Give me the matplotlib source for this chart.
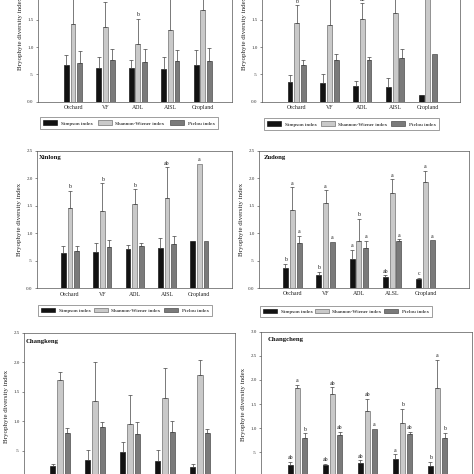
import matplotlib
matplotlib.use("Agg")
import matplotlib.pyplot as plt
from matplotlib.patches import Patch
import numpy as np

plt.rcParams['font.family'] = ['Liberation Serif', 'DejaVu Serif']

categories = ["Orchard", "VF", "ADL", "AISL", "Cropland"]
categories_zudong = ["Orchard", "VF", "ADL", "ALSL", "Cropland"]
series_names = ["Simpson index", "Shannon-Wiener index", "Pielou index"]

# Panel 1 (top-left, title cropped)
p1_simpson = [0.67, 0.61, 0.61, 0.59, 0.67]
p1_simpson_err = [0.18, 0.21, 0.15, 0.22, 0.275]
p1_shannon = [1.42, 1.36, 1.05, 1.31, 1.68]
p1_shannon_err = [0.58, 0.47, 0.46, 0.64, 0.42]
p1_pielou = [0.70, 0.76, 0.73, 0.74, 0.74]
p1_pielou_err = [0.23, 0.20, 0.23, 0.205, 0.24]
p1_letters_shannon = ["", "", "b", "", ""]

# Panel 2 (top-right, title cropped)
p2_simpson = [0.355, 0.335, 0.29, 0.26, 0.13]
p2_simpson_err = [0.135, 0.165, 0.09, 0.17, 0.0]
p2_shannon = [1.445, 1.40, 1.52, 1.63, 2.27]
p2_shannon_err = [0.315, 0.51, 0.28, 0.57, 0.0]
p2_pielou = [0.68, 0.76, 0.77, 0.80, 0.866]
p2_pielou_err = [0.09, 0.12, 0.05, 0.16, 0.0]
p2_letters_shannon = ["b", "", "ab", "", ""]

# Xinlong
xl_simpson = [0.636, 0.655, 0.71, 0.74, 0.867]
xl_simpson_err = [0.134, 0.165, 0.08, 0.17, 0.0]
xl_shannon = [1.46, 1.406, 1.53, 1.65, 2.27]
xl_shannon_err = [0.316, 0.504, 0.27, 0.55, 0.0]
xl_pielou = [0.685, 0.758, 0.77, 0.80, 0.867]
xl_pielou_err = [0.091, 0.122, 0.06, 0.16, 0.0]
xl_letters_shannon = ["b", "b", "b", "ab", "a"]

# Zudong
zd_simpson = [0.364, 0.24, 0.533, 0.206, 0.164]
zd_simpson_err = [0.08, 0.05, 0.167, 0.024, 0.026]
zd_letters_simpson = ["b", "b", "a", "ab", "c"]
zd_shannon = [1.42, 1.56, 0.85, 1.74, 1.94]
zd_shannon_err = [0.42, 0.22, 0.41, 0.24, 0.20]
zd_letters_shannon = ["a", "a", "b", "a", "a"]
zd_pielou = [0.83, 0.84, 0.727, 0.86, 0.867]
zd_pielou_err = [0.12, 0.0, 0.133, 0.03, 0.0]
zd_letters_pielou = ["a", "a", "a", "a", "a"]

# Changkeng
ck_simpson = [0.237, 0.34, 0.47, 0.32, 0.226]
ck_simpson_err = [0.043, 0.17, 0.17, 0.19, 0.054]
ck_shannon = [1.695, 1.34, 0.955, 1.39, 1.785]
ck_shannon_err = [0.145, 0.66, 0.495, 0.51, 0.245]
ck_pielou = [0.80, 0.90, 0.78, 0.81, 0.80]
ck_pielou_err = [0.076, 0.09, 0.20, 0.19, 0.06]

# Changcheng
cc_simpson = [0.235, 0.235, 0.276, 0.365, 0.215]
cc_simpson_err = [0.065, 0.03, 0.064, 0.095, 0.085]
cc_letters_simpson = ["ab", "ab", "ab", "a", "b"]
cc_shannon = [1.83, 1.70, 1.357, 1.12, 1.84]
cc_shannon_err = [0.07, 0.145, 0.253, 0.28, 0.58]
cc_letters_shannon = ["a", "ab", "ab", "b", "a"]
cc_pielou = [0.806, 0.866, 0.995, 0.887, 0.79]
cc_pielou_err = [0.088, 0.064, 0.0, 0.043, 0.12]
cc_letters_pielou = ["b", "ab", "a", "ab", "b"]

colors = ["#121212", "#c9c9c9", "#7a7a7a"]
edges = ["#000000", "#555555", "#333333"]

W = H = 474.0
fig = plt.figure(figsize=(4.74, 4.74), dpi=100)
fig.patch.set_facecolor("white")


def rect(left, right, y0, ytop):
    return [left / W, 1 - y0 / H, (right - left) / W, (y0 - ytop) / H]


def panel(r, cats, means, errs, letters, ymax, yticks, ytlabels, xlim,
          title=None, title_xy=None, legend_box=None):
    ax = fig.add_axes(r)
    x = np.arange(len(cats))
    offs = [-0.205, 0.0, 0.205]
    bw = 0.15
    for k in range(3):
        m = np.array(means[k])
        e = np.array(errs[k])
        ax.bar(x + offs[k], m, bw, color=colors[k], edgecolor=edges[k],
               linewidth=0.4, zorder=2)
        for i in range(len(cats)):
            if e[i] > 0:
                ax.errorbar(x[i] + offs[k], m[i], yerr=[[0], [e[i]]], fmt='none',
                            ecolor="#444444", elinewidth=0.5, capsize=1.3,
                            capthick=0.5, zorder=3)
            lt = letters[k][i] if letters[k] is not None else ""
            if lt:
                top = m[i] + e[i]
                ax.annotate(lt, (x[i] + offs[k], top), xytext=(0, 1.2),
                            textcoords='offset points', ha='center', va='bottom',
                            fontsize=4.2, color="#222222", zorder=4)
    ax.set_xlim(*xlim)
    ax.set_ylim(0, ymax)
    ax.set_yticks(yticks)
    ax.set_yticklabels(ytlabels)
    ax.set_xticks(x)
    ax.set_xticklabels(cats)
    ax.tick_params(axis='y', labelsize=3.6, length=1.6, width=0.4, pad=1.5,
                   colors="#333333")
    ax.tick_params(axis='x', labelsize=4.2, length=0, pad=2.5, colors="#222222")
    for s in ax.spines.values():
        s.set_linewidth(0.5)
        s.set_color("#555555")
    ax.set_ylabel("Bryophyte diversity index", fontsize=5, labelpad=3,
                  color="#222222")
    if title:
        fig.text(title_xy[0] / W, 1 - title_xy[1] / H, title, fontsize=4.8,
                 fontweight='bold', ha='left', va='center', color="#111111")
    if legend_box is not None:
        lx0, ly_top, lx1, ly_bot = legend_box
        handles = [Patch(facecolor=colors[k], edgecolor=edges[k], linewidth=0.4)
                   for k in range(3)]
        leg = fig.legend(handles, series_names, loc='center', ncol=3,
                         bbox_to_anchor=(lx0 / W, 1 - ly_bot / H,
                                         (lx1 - lx0) / W, (ly_bot - ly_top) / H),
                         mode='expand', fontsize=3.9, frameon=True,
                         fancybox=False, handlelength=2.6, handleheight=0.9,
                         handletextpad=0.6, columnspacing=1.0, borderpad=0.6,
                         borderaxespad=0.0)
        leg.get_frame().set_edgecolor("#555555")
        leg.get_frame().set_linewidth(0.5)
    return ax


yt25 = [0, 0.5, 1.0, 1.5, 2.0, 2.5]
yl25 = ["0.0", ".5", "1.0", "1.5", "2.0", "2.5"]
yt30 = [0, 0.5, 1.0, 1.5, 2.0, 2.5, 3.0]
yl30 = ["0.0", ".5", "1.0", "1.5", "2.0", "2.5", "3.0"]

none5 = None

panel(rect(38, 232, 101.7, -35.0), categories,
      [p1_simpson, p1_shannon, p1_pielou],
      [p1_simpson_err, p1_shannon_err, p1_pielou_err],
      [none5, p1_letters_shannon, none5], 2.5, yt25, yl25, (-1.08, 4.9),
      legend_box=(40, 116, 218, 130))

panel(rect(262, 460, 101.7, -35.0), categories,
      [p2_simpson, p2_shannon, p2_pielou],
      [p2_simpson_err, p2_shannon_err, p2_pielou_err],
      [none5, p2_letters_shannon, none5], 2.5, yt25, yl25, (-1.06, 4.98),
      legend_box=(264, 117, 439, 131))

panel(rect(37, 232, 288.3, 151.0), categories,
      [xl_simpson, xl_shannon, xl_pielou],
      [xl_simpson_err, xl_shannon_err, xl_pielou_err],
      [none5, xl_letters_shannon, none5], 2.5, yt25, yl25, (-1.02, 5.01),
      title="Xinlong", title_xy=(39, 157), legend_box=(38, 304, 212, 317))

panel(rect(259, 469, 288.0, 151.0), categories_zudong,
      [zd_simpson, zd_shannon, zd_pielou],
      [zd_simpson_err, zd_shannon_err, zd_pielou_err],
      [zd_letters_simpson, zd_letters_shannon, zd_letters_pielou], 2.5, yt25, yl25,
      (-1.0, 5.31), title="Zudong", title_xy=(264, 157),
      legend_box=(260, 305, 432, 318))

panel(rect(24, 235, 480.0, 332.7), categories,
      [ck_simpson, ck_shannon, ck_pielou],
      [ck_simpson_err, ck_shannon_err, ck_pielou_err],
      [none5, none5, none5], 2.5, yt25, yl25, (-1.03, 5.0),
      title="Changkeng", title_xy=(26, 341))

panel(rect(261, 472, 476.6, 331.7), categories,
      [cc_simpson, cc_shannon, cc_pielou],
      [cc_simpson_err, cc_shannon_err, cc_pielou_err],
      [cc_letters_simpson, cc_letters_shannon, cc_letters_pielou], 3.0, yt30, yl30,
      (-1.04, 4.99), title="Changcheng", title_xy=(268, 339))

fig.savefig("out.png", dpi=100, facecolor="white")
